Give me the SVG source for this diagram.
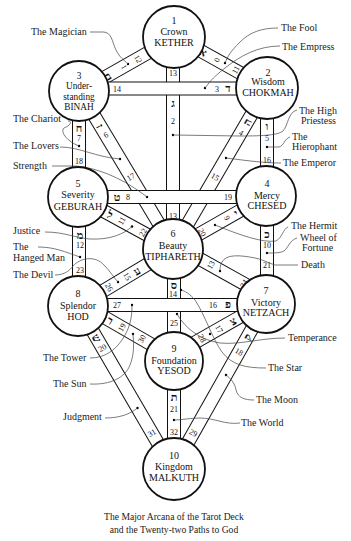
<svg xmlns="http://www.w3.org/2000/svg" width="351" height="541" viewBox="0 0 351 541">
<style>
text{font-family:"Liberation Serif","DejaVu Sans",serif;fill:#111}
.bo{stroke:#111;stroke-width:14}
.bi{stroke:#fff;stroke-width:12}
.n{font-size:8px;text-anchor:middle;dominant-baseline:central}
.h{font-size:11px;font-weight:bold;text-anchor:middle;dominant-baseline:central}
.ld{fill:none;stroke:#444;stroke-width:0.7}
.lb{font-size:10px;fill:#222}
.node circle{fill:#fff;stroke:#111;stroke-width:1.8}
.node text{font-size:10px;text-anchor:middle}
#n3 text{font-size:9.3px}
.cap{font-size:9.6px;text-anchor:middle;fill:#222}
</style>
<rect width="351" height="541" fill="#fff"/>
<g id="connectors">
 <g id="p11"><line class="bo" x1="174" y1="36" x2="267" y2="88"/><line class="bi" x1="174" y1="36" x2="267" y2="88"/>
  <text class="h" transform="translate(203,52) rotate(29)">א</text><text class="n" transform="translate(217,60) rotate(-61)">0</text><circle cx="225" cy="63" r="1.2"/><text class="n" transform="translate(236,70) rotate(-61)">11</text></g>
 <g id="p12"><line class="bo" x1="79" y1="92" x2="174" y2="38"/><line class="bi" x1="79" y1="92" x2="174" y2="38"/>
  <text class="h" transform="translate(108,76) rotate(-29)">ב</text><text class="n" transform="translate(124,67) rotate(61)">1</text><circle cx="128" cy="64" r="1.2"/><text class="n" transform="translate(138,59) rotate(61)">12</text></g>
 <g id="p15"><line class="bo" x1="267" y1="88" x2="173" y2="249"/><line class="bi" x1="267" y1="88" x2="173" y2="249"/>
  <text class="h" transform="translate(247,122) rotate(-60)">ה</text><text class="n" transform="translate(241,133) rotate(30)">4</text><circle cx="226" cy="158" r="1.2"/><text class="n" transform="translate(215,177) rotate(30)">15</text></g>
 <g id="p17"><line class="bo" x1="80" y1="92" x2="174" y2="249"/><line class="bi" x1="80" y1="92" x2="174" y2="249"/>
  <text class="h" transform="translate(100,126) rotate(59)">ז</text><text class="n" transform="translate(106,135) rotate(-31)">6</text><circle cx="120" cy="159" r="1.2"/><text class="n" transform="translate(131,177) rotate(-31)">17</text></g>
 <g id="p20"><line class="bo" x1="173" y1="249" x2="266" y2="196"/><line class="bi" x1="173" y1="249" x2="266" y2="196"/>
  <text class="h" transform="translate(236,213) rotate(-30)">י</text><text class="n" transform="translate(227,218) rotate(60)">9</text><circle cx="215" cy="225" r="1.2"/><text class="n" transform="translate(202,232.5) rotate(60)">20</text></g>
 <g id="p22"><line class="bo" x1="78" y1="197" x2="173" y2="249"/><line class="bi" x1="78" y1="197" x2="173" y2="249"/>
  <text class="h" transform="translate(110,214.5) rotate(29)">ל</text><text class="n" transform="translate(122,221) rotate(-61)">11</text><circle cx="132" cy="226.5" r="1.2"/><text class="n" transform="translate(143,232.5) rotate(-61)">22</text></g>
 <g id="p24"><line class="bo" x1="173" y1="244" x2="266" y2="296"/><line class="bi" x1="173" y1="244" x2="266" y2="296"/>
  <text class="n" transform="translate(211,265) rotate(-60)">13</text><circle cx="220" cy="271" r="1.2"/><text class="n" transform="translate(244,283.7) rotate(-60)">24</text></g>
 <g id="p26"><line class="bo" x1="78" y1="306" x2="173" y2="249"/><line class="bi" x1="78" y1="306" x2="173" y2="249"/>
  <text class="n" transform="translate(109,287.5) rotate(59.5)">26</text><circle cx="118" cy="282" r="1.2"/><text class="n" transform="translate(127,276.5) rotate(59.5)">15</text><text class="h" transform="translate(137,271) rotate(-30.5)">ע</text></g>
 <g id="p28"><line class="bo" x1="173" y1="355" x2="266" y2="302"/><line class="bi" x1="173" y1="355" x2="266" y2="302"/>
  <text class="n" transform="translate(202,338.5) rotate(59.5)">28</text><circle cx="210" cy="334" r="1.2"/><text class="n" transform="translate(219,329) rotate(59.5)">17</text><text class="h" transform="translate(233,321) rotate(-30.5)">צ</text></g>
 <g id="p29"><line class="bo" x1="173" y1="469" x2="266" y2="304"/><line class="bi" x1="173" y1="469" x2="266" y2="304"/>
  <text class="h" transform="translate(247.4,337) rotate(-60.6)">ק</text><text class="n" transform="translate(239,352) rotate(29.4)">18</text><circle cx="226" cy="375" r="1.2"/><text class="n" transform="translate(193.3,433) rotate(29.4)">29</text></g>
 <g id="p30"><line class="bo" x1="78" y1="302" x2="173" y2="357"/><line class="bi" x1="78" y1="302" x2="173" y2="357"/>
  <text class="h" transform="translate(110,320.5) rotate(30)">ר</text><text class="n" transform="translate(122,327.5) rotate(-60)">19</text><circle cx="133" cy="334" r="1.2"/><text class="n" transform="translate(142,339) rotate(-60)">30</text></g>
 <g id="p31"><line class="bo" x1="78" y1="306" x2="173" y2="469"/><line class="bi" x1="78" y1="306" x2="173" y2="469"/>
  <text class="h" transform="translate(96.7,338) rotate(59.8)">ש</text><text class="n" transform="translate(102.5,348) rotate(-30.2)">20</text><circle cx="137.5" cy="408" r="1.2"/><text class="n" transform="translate(152,433) rotate(-30.2)">31</text></g>
 <g id="p13"><line class="bo" x1="173" y1="37" x2="173" y2="249"/><line class="bi" x1="173" y1="37" x2="173" y2="249"/>
  <text class="n" x="173" y="73">13</text><text class="h" x="173" y="103">ג</text><text class="n" x="173" y="121">2</text><circle cx="173" cy="135" r="1.2"/><text class="n" x="173" y="216">13</text></g>
 <g id="p16"><line class="bo" x1="267" y1="88" x2="267" y2="196"/><line class="bi" x1="267" y1="88" x2="267" y2="196"/>
  <text class="h" x="267" y="126">ו</text><text class="n" x="267" y="138">5</text><circle cx="267" cy="147" r="1.2"/><text class="n" x="267" y="160">16</text></g>
 <g id="p18"><line class="bo" x1="79" y1="91" x2="79" y2="197"/><line class="bi" x1="79" y1="91" x2="79" y2="197"/>
  <text class="h" x="79" y="128">ח</text><text class="n" x="79" y="138">7</text><circle cx="79" cy="146" r="1.2"/><text class="n" x="79" y="161">18</text></g>
 <g id="p21"><line class="bo" x1="267" y1="196" x2="267" y2="304"/><line class="bi" x1="267" y1="196" x2="267" y2="304"/>
  <text class="h" x="267" y="234">כ</text><text class="n" x="267" y="245">10</text><circle cx="267" cy="253" r="1.2"/><text class="n" x="267" y="265">21</text></g>
 <g id="p23"><line class="bo" x1="79" y1="197" x2="79" y2="306"/><line class="bi" x1="79" y1="197" x2="79" y2="306"/>
  <text class="h" x="80" y="235">מ</text><text class="n" x="80" y="245">12</text><circle cx="80" cy="257" r="1.2"/><text class="n" x="80" y="270">23</text></g>
 <g id="p25"><line class="bo" x1="174" y1="249" x2="174" y2="361"/><line class="bi" x1="174" y1="249" x2="174" y2="361"/>
  <text class="h" x="174" y="285">ס</text><text class="n" x="173" y="294">14</text><circle cx="181" cy="290" r="1.2"/><circle cx="177" cy="314" r="1.2"/><text class="n" x="174" y="323">25</text></g>
 <g id="p32"><line class="bo" x1="174" y1="361" x2="174" y2="469"/><line class="bi" x1="174" y1="361" x2="174" y2="469"/>
  <text class="h" x="174" y="397">ת</text><text class="n" x="174" y="409">21</text><circle cx="174" cy="420" r="1.2"/><text class="n" x="174" y="432">32</text></g>
 <g id="p14"><line class="bo" x1="79" y1="88.5" x2="267" y2="88.5"/><line class="bi" x1="79" y1="88.5" x2="267" y2="88.5"/>
  <text class="n" x="117" y="89">14</text><circle cx="205" cy="88" r="1.2"/><text class="n" x="217" y="89">3</text><text class="h" x="228" y="88">ד</text></g>
 <g id="p19"><line class="bo" x1="78" y1="197" x2="266" y2="197"/><line class="bi" x1="78" y1="197" x2="266" y2="197"/>
  <text class="h" x="117" y="197">ט</text><text class="n" x="128" y="197">8</text><circle cx="147" cy="197" r="1.2"/><text class="n" x="228" y="197">19</text></g>
 <g id="p27"><line class="bo" x1="78" y1="305" x2="266" y2="305"/><line class="bi" x1="78" y1="305" x2="266" y2="305"/>
  <text class="n" x="117" y="305">27</text><circle cx="132" cy="305" r="1.2"/><text class="n" x="213" y="305">16</text><text class="h" x="228" y="304">פ</text></g>
</g>
<g id="leaders">
 <path class="ld" d="M90,32 H103 C112,32 112,42 116,50 S124,60 128,64"/>
 <path class="ld" d="M278,28 C262,28 250,32 240,42 S228,56 225,63"/>
 <path class="ld" d="M280,46 C258,46 240,56 225,68 S210,82 205,88"/>
 <path class="ld" d="M297,110 C288,112 288,126 283,131 C278,135 265,136 240,136 L173,135"/>
 <path class="ld" d="M290,137 C284,139 284,146 279,147 L267,147"/>
 <path class="ld" d="M281,163 C265,163 250,161 226,158"/>
 <path class="ld" d="M68,121 C73,121 70,126 64,128 C60,131 66,141 79,146"/>
 <path class="ld" d="M60,147 C80,147 95,157 120,159"/>
 <path class="ld" d="M52,166 H75 C100,168 125,180 147,197"/>
 <path class="ld" d="M45,232 C65,232 75,238 90,239 C110,240 124,234 132,226.5"/>
 <path class="ld" d="M38,247 C55,247 65,252 80,257"/>
 <path class="ld" d="M55,275 C65,275 70,270 73,266 C80,258 95,255 104,265 C110,271 114,278 118,282"/>
 <path class="ld" d="M90,358 C105,358 115,350 122,340 C130,328 132,318 132,305"/>
 <path class="ld" d="M90,384 C110,385 125,378 130,365 C134,355 134,345 133,334"/>
 <path class="ld" d="M105,418 C120,418 130,414 137.5,408"/>
 <path class="ld" d="M288,227 C283,229 282,238 276,241 C262,243 240,235 215,225"/>
 <path class="ld" d="M297,238 C290,240 288,248 284,251 C280,253 275,253 267,253"/>
 <path class="ld" d="M298,265 L275,265 C268,263 262,259 255,258 C240,255 226,254 222,262 C220,266 220,268 220,271"/>
 <path class="ld" d="M285,338 C260,338 240,345 220,343 C200,340 185,328 177,314"/>
 <path class="ld" d="M266,368 C245,368 232,365 222,352 C212,338 205,315 195,300 C190,294 185,291 181,290"/>
 <path class="ld" d="M254,400 C245,400 238,398 236,390 C235,383 230,378 226,375"/>
 <path class="ld" d="M240,423 C225,425 215,418 200,418 C190,418 182,420 174,420"/>
</g>
<g id="labels">
 <text class="lb" x="31" y="35">The Magician</text>
 <text class="lb" x="13" y="122">The Chariot</text>
 <text class="lb" x="13" y="149">The Lovers</text>
 <text class="lb" x="13" y="169">Strength</text>
 <text class="lb" x="13" y="234">Justice</text>
 <text class="lb" x="13" y="250">The</text>
 <text class="lb" x="13" y="261">Hanged Man</text>
 <text class="lb" x="13" y="278">The Devil</text>
 <text class="lb" x="43" y="361">The Tower</text>
 <text class="lb" x="53" y="387">The Sun</text>
 <text class="lb" x="63" y="420">Judgment</text>
 <text class="lb" x="281" y="31">The Fool</text>
 <text class="lb" x="282" y="50">The Empress</text>
 <text class="lb" x="299" y="114">The High</text>
 <text class="lb" x="301" y="124">Priestess</text>
 <text class="lb" x="292" y="140">The</text>
 <text class="lb" x="292" y="150">Hierophant</text>
 <text class="lb" x="283" y="166">The Emperor</text>
 <text class="lb" x="291" y="229">The Hermit</text>
 <text class="lb" x="300" y="241">Wheel of</text>
 <text class="lb" x="302" y="251">Fortune</text>
 <text class="lb" x="301" y="268">Death</text>
 <text class="lb" x="288" y="341">Temperance</text>
 <text class="lb" x="268" y="371">The Star</text>
 <text class="lb" x="256" y="403">The Moon</text>
 <text class="lb" x="241" y="426">The World</text>
</g>
<g id="n1" class="node"><circle cx="174" cy="37" r="31"/><text x="174" y="24">1</text><text x="174" y="35">Crown</text><text x="174" y="46">KETHER</text></g>
<g id="n2" class="node"><circle cx="267" cy="88" r="31"/><text x="268" y="75.5">2</text><text x="268" y="85">Wisdom</text><text x="268" y="96">CHOKMAH</text></g>
<g id="n3" class="node"><circle cx="79" cy="91" r="30"/><text x="79" y="78.5">3</text><text x="79" y="89">Under-</text><text x="79" y="99.5">standing</text><text x="79" y="110">BINAH</text></g>
<g id="n4" class="node"><circle cx="266" cy="196" r="30"/><text x="267" y="186.5">4</text><text x="267" y="198.5">Mercy</text><text x="267" y="208.5">CHESED</text></g>
<g id="n5" class="node"><circle cx="78" cy="197" r="30"/><text x="78" y="186.5">5</text><text x="78" y="198">Severity</text><text x="78" y="209.5">GEBURAH</text></g>
<g id="n6" class="node"><circle cx="173" cy="249" r="30"/><text x="173" y="236.5">6</text><text x="173" y="248.5">Beauty</text><text x="173" y="259.5">TIPHARETH</text></g>
<g id="n7" class="node"><circle cx="266" cy="304" r="29"/><text x="266" y="293.5">7</text><text x="266" y="305.5">Victory</text><text x="266" y="315.5">NETZACH</text></g>
<g id="n8" class="node"><circle cx="78" cy="306" r="30"/><text x="78" y="296.5">8</text><text x="78" y="308.5">Splendor</text><text x="78" y="319.5">HOD</text></g>
<g id="n9" class="node"><circle cx="174" cy="361" r="29"/><text x="174" y="351.5">9</text><text x="174" y="363.5">Foundation</text><text x="174" y="373.5">YESOD</text></g>
<g id="n10" class="node"><circle cx="174" cy="469" r="31"/><text x="174" y="458.5">10</text><text x="174" y="469.5">Kingdom</text><text x="174" y="480.5">MALKUTH</text></g>
<text class="cap" x="174" y="520">The Major Arcana of the Tarot Deck</text>
<text class="cap" x="174" y="533">and the Twenty-two Paths to God</text>
</svg>
